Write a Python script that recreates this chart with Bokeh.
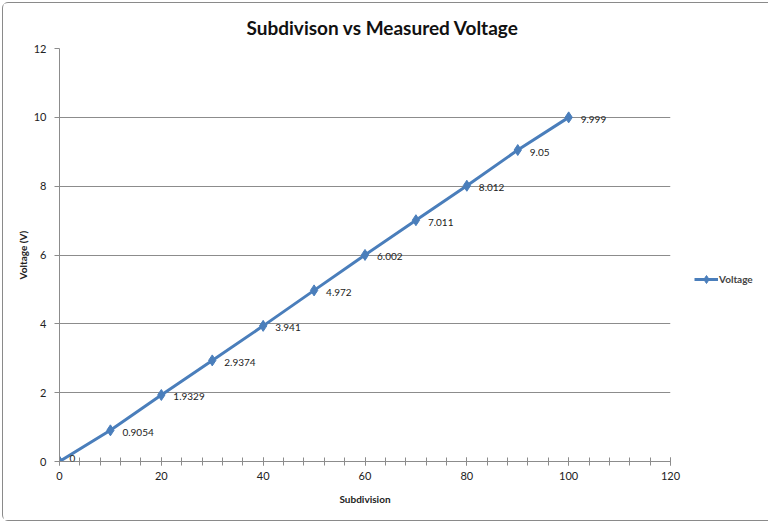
from bokeh.plotting import figure
from bokeh.models import ColumnDataSource, Range1d, FixedTicker, Legend, LegendItem, LabelSet
from bokeh.embed import file_html
from bokeh.resources import INLINE
from bokeh.core.properties import value

subdivision = [0, 10, 20, 30, 40, 50, 60, 70, 80, 90, 100]
voltage = [0, 0.9054, 1.9329, 2.9374, 3.941, 4.972, 6.002, 7.011, 8.012, 9.05, 9.999]
labels = ["0", "0.9054", "1.9329", "2.9374", "3.941", "4.972", "6.002", "7.011", "8.012", "9.05", "9.999"]
x_ticks = [0, 20, 40, 60, 80, 100, 120]
y_ticks = [0, 2, 4, 6, 8, 10, 12]

FONT = "Lato"
BLUE = "#4A7EBB"

src = ColumnDataSource(dict(x=subdivision, y=voltage, t=labels))
src_main = ColumnDataSource(dict(x=subdivision[1:], y=voltage[1:], t=labels[1:]))
src_zero = ColumnDataSource(dict(x=subdivision[:1], y=voltage[:1], t=labels[:1]))

p = figure(frame_width=611, frame_height=413, output_backend="svg", toolbar_location=None,
           x_range=Range1d(0, 120), y_range=Range1d(0, 12),
           min_border_left=56, min_border_right=95, min_border_top=45, min_border_bottom=59)
p.styles = {"margin": "2px", "border": "1px solid #8a8a8a", "border-radius": "6px"}
p.outline_line_color = None
p.background_fill_color = "white"

p.title.text = "Subdivison vs Measured Voltage"
p.title.text_font = FONT
p.title.text_font_style = "bold"
p.title.text_font_size = "19px"
p.title.text_color = "#111111"
p.title.align = "left"
p.title.offset = 187
p.title.standoff = 19

p.xgrid.grid_line_color = None
p.ygrid.grid_line_color = "#8c8c8c"
p.ygrid.grid_line_width = 1

p.xaxis.ticker = FixedTicker(ticks=x_ticks, minor_ticks=list(range(0, 121, 4)))
p.yaxis.ticker = FixedTicker(ticks=y_ticks)
for ax in (p.xaxis[0], p.yaxis[0]):
    ax.axis_line_color = "#8c8c8c"
    ax.major_tick_line_color = "#8c8c8c"
    ax.minor_tick_line_color = "#8c8c8c"
    ax.major_label_text_font = FONT
    ax.major_label_text_font_size = "11px"
    ax.major_label_text_color = "#222222"
    ax.axis_label_text_font = FONT
    ax.axis_label_text_font_style = "bold"
    ax.axis_label_text_font_size = "10px"
    ax.axis_label_text_color = "#222222"
p.xaxis.major_tick_in = 4
p.xaxis.major_tick_out = 4
p.xaxis.minor_tick_in = 4
p.xaxis.minor_tick_out = 4
p.yaxis.major_tick_in = 0
p.yaxis.major_tick_out = 5
p.yaxis.minor_tick_line_color = None
p.xaxis.major_label_standoff = 6
p.yaxis.major_label_standoff = 8
p.xaxis.axis_label = "Subdivision"
p.yaxis.axis_label = "Voltage (V)"
p.xaxis.axis_label_standoff = 10
p.yaxis.axis_label_standoff = 2

line = p.line("x", "y", source=src, line_color=BLUE, line_width=3)
pts = p.scatter("x", "y", source=src, marker="diamond", size=11, fill_color=BLUE, line_color=BLUE)

ls = LabelSet(x="x", y="y", text="t", source=src_main, x_offset=12, y_offset=-2,
              text_font=value(FONT), text_font_size="10px", text_color="#222222",
              text_baseline="middle")
p.add_layout(ls)
ls0 = LabelSet(x="x", y="y", text="t", source=src_zero, x_offset=10, y_offset=0,
               text_font=value(FONT), text_font_size="10px", text_color="#222222",
               text_baseline="bottom")
p.add_layout(ls0)

legend = Legend(items=[LegendItem(label="Voltage", renderers=[line, pts])],
                location=(24, 172), border_line_color=None, background_fill_alpha=0,
                label_text_font=FONT, label_text_font_style="bold", label_text_font_size="10px",
                glyph_width=24, label_standoff=1, padding=0, margin=0)
p.add_layout(legend, "right")

open("out.html", "w").write(file_html(p, INLINE))
